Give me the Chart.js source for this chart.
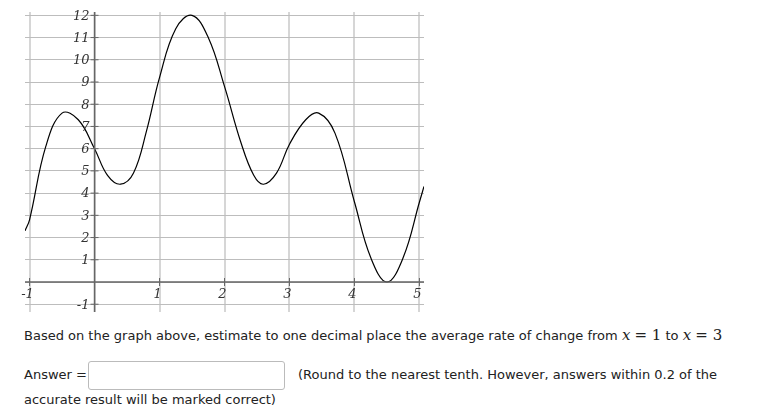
<!DOCTYPE html>
<html>
<head>
<meta charset="utf-8">
<script src="https://cdn.jsdelivr.net/npm/chart.js@4"></script>
<style>
  body { margin: 0; background: #fff; font-family: "DejaVu Sans", Verdana, sans-serif; font-size: 13px; color: #222; }
  #wrap { position: absolute; left: 0; top: 0; width: 440px; height: 320px; }
  .txt { position: absolute; white-space: nowrap; }
  .m { font-family: "DejaVu Serif", "Liberation Serif", serif; font-style: italic; font-size: 15px; }
  .n { font-family: "DejaVu Serif", "Liberation Serif", serif; font-size: 15px; }
  #box { position: absolute; left: 88px; top: 361px; width: 195px; height: 27px; border: 1px solid #bbb; border-radius: 3px; }
</style>
</head>
<body>
<div id="wrap"><canvas id="graph" width="440" height="320"></canvas></div>
<div class="txt" style="left:24px;top:326px">Based on the graph above, estimate to one decimal place the average rate of change from <span class="m">x</span> <span class="n">= 1</span> to <span class="m">x</span> <span class="n">= 3</span></div>
<div class="txt" style="left:24px;top:367px">Answer =</div>
<div id="box"></div>
<div class="txt" style="left:298px;top:367px">(Round to the nearest tenth. However, answers within 0.2 of the</div>
<div class="txt" style="left:24px;top:392px">accurate result will be marked correct)</div>
<script>
const xs = [-1.07, -1, -0.75, -0.5, -0.25, 0, 0.2, 0.4, 0.6, 0.8, 1, 1.25, 1.5, 1.75, 2, 2.25, 2.45, 2.6, 2.8, 3, 3.25, 3.45, 3.7, 4, 4.25, 4.5, 4.75, 5, 5.07];
const ys = [2.3, 2.8, 6.1, 7.6, 7.3, 6.0, 4.8, 4.4, 4.9, 6.8, 9.2, 11.4, 12, 11.0, 8.8, 6.3, 4.8, 4.4, 4.9, 6.2, 7.3, 7.6, 6.7, 3.6, 1.1, 0, 1.1, 3.6, 4.3];
const xTicks = [-1, 1, 2, 3, 4, 5];
const yTicks = [-1, 1, 2, 3, 4, 5, 6, 7, 8, 9, 10, 11, 12];

const axesPlugin = {
  id: "axes",
  afterDatasetsDraw(chart) {
    const { ctx, chartArea: a, scales: { x, y } } = chart;
    const x0 = x.getPixelForValue(0), y0 = y.getPixelForValue(0);
    ctx.save();
    ctx.strokeStyle = "#666";
    ctx.lineWidth = 1.5;
    ctx.beginPath();
    ctx.moveTo(a.left, y0); ctx.lineTo(a.right, y0);
    ctx.moveTo(x0, a.top); ctx.lineTo(x0, a.bottom);
    ctx.stroke();
    ctx.lineWidth = 1;
    ctx.font = "italic 13px 'DejaVu Serif', 'Liberation Serif', serif";
    ctx.fillStyle = "#333";
    ctx.textAlign = "center"; ctx.textBaseline = "top";
    for (const v of xTicks) {
      const px = x.getPixelForValue(v);
      ctx.beginPath(); ctx.moveTo(px, y0 - 4); ctx.lineTo(px, y0 + 4); ctx.stroke();
      ctx.fillText(String(v), px - 2, y0 + 6);
    }
    ctx.textAlign = "right"; ctx.textBaseline = "middle";
    for (const v of yTicks) {
      const py = y.getPixelForValue(v);
      ctx.beginPath(); ctx.moveTo(x0 - 4, py); ctx.lineTo(x0 + 4, py); ctx.stroke();
      ctx.fillText(String(v), x0 - 5, py + 1);
    }
    ctx.restore();
  }
};

new Chart(document.getElementById("graph"), {
  type: "line",
  data: {
    datasets: [{
      data: xs.map((v, i) => ({ x: v, y: ys[i] })),
      borderColor: "#000",
      borderWidth: 1.2,
      pointRadius: 0,
      tension: 0.4,
      fill: false
    }]
  },
  options: {
    responsive: false,
    animation: false,
    layout: { padding: { left: 25, right: 16, top: 12, bottom: 8 } },
    plugins: { legend: { display: false }, tooltip: { enabled: false } },
    scales: {
      x: {
        type: "linear", min: -1.07, max: 5.07,
        afterBuildTicks(s) { s.ticks = [-1, 0, 1, 2, 3, 4, 5].map(v => ({ value: v })); },
        grid: { color: "#d6d6d6", lineWidth: 2, drawTicks: false },
        border: { display: false },
        ticks: { display: false }
      },
      y: {
        min: -1.35, max: 12.15,
        afterBuildTicks(s) { s.ticks = [-1, 0, 1, 2, 3, 4, 5, 6, 7, 8, 9, 10, 11, 12].map(v => ({ value: v })); },
        grid: { color: "#bdbdbd", lineWidth: 1, drawTicks: false },
        border: { display: false },
        ticks: { display: false }
      }
    }
  },
  plugins: [axesPlugin]
});
</script>
</body>
</html>
